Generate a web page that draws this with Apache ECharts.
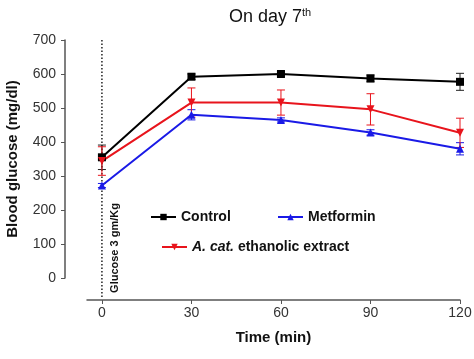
<!DOCTYPE html>
<html>
<head>
<meta charset="utf-8">
<script src="https://cdn.jsdelivr.net/npm/echarts@6/dist/echarts.min.js"></script>
<style>html,body{margin:0;padding:0;background:#fff}#c{width:474px;height:359px}</style>
</head>
<body>
<div id="c"></div>
<script>
var times = [0, 30, 60, 90, 120];
var yTicks = [0, 100, 200, 300, 400, 500, 600, 700];
var controlMean = [355, 592, 600, 587, 577];
var controlErr  = [36, 8, 6, 10, 25];
var metforminMean = [272, 480, 465, 428, 380];
var metforminErr  = [6, 15, 6, 8, 18];
var extractMean = [344, 516, 516, 496, 427];
var extractErr  = [42, 43, 37, 46, 43];
var seriesNames = ['Control', 'Metformin', 'A. cat. ethanolic extract'];
var FONT = 'Liberation Sans, Arial, sans-serif';

function pairs(m) { return times.map(function (t, i) { return [t, m[i]]; }); }
function errData(m, e) { return times.map(function (t, i) { return [t, m[i], e[i]]; }); }

function errSeries(name, m, e, color) {
  return {
    type: 'custom', name: name + ' err', z: 1,
    data: errData(m, e),
    renderItem: function (params, api) {
      var x = api.value(0), y = api.value(1), err = api.value(2);
      var hi = api.coord([x, y + err]);
      var lo = api.coord([x, y - err]);
      var w = 4;
      var st = { stroke: color, lineWidth: 1 };
      return { type: 'group', children: [
        { type: 'line', shape: { x1: hi[0], y1: hi[1], x2: lo[0], y2: lo[1] }, style: st },
        { type: 'line', shape: { x1: hi[0] - w, y1: hi[1], x2: hi[0] + w, y2: hi[1] }, style: st },
        { type: 'line', shape: { x1: lo[0] - w, y1: lo[1], x2: lo[0] + w, y2: lo[1] }, style: st }
      ]};
    }
  };
}

function lineSeries(name, m, color, symbol, rot) {
  return {
    type: 'line', name: name, data: pairs(m), z: 3,
    symbol: symbol, symbolSize: 8, symbolRotate: rot || 0,
    lineStyle: { color: color, width: 2 },
    itemStyle: { color: color },
    emphasis: { disabled: true }
  };
}

var legendText = { fontFamily: FONT, fontSize: 14, fontWeight: 'bold', color: '#111' };

var chart = echarts.init(document.getElementById('c'), null, { renderer: 'canvas' });
chart.setOption({
  animation: false,
  textStyle: { fontFamily: FONT },
  title: {
    text: 'On day 7{sup|th}', left: 265, top: 2, textAlign: 'center',
    textStyle: {
      fontFamily: FONT, fontSize: 18, fontWeight: 'normal', color: '#111',
      rich: { sup: { fontFamily: FONT, fontSize: 11, color: '#111', verticalAlign: 'top', padding: [0, 0, 9, 0] } }
    }
  },
  legend: [
    { data: [seriesNames[0]], left: 150, top: 210, padding: 0, itemWidth: 25, itemHeight: 8, itemGap: 4,
      textStyle: legendText },
    { data: [seriesNames[1]], left: 277, top: 210, padding: 0, itemWidth: 25, itemHeight: 8, itemGap: 4,
      textStyle: legendText },
    { data: [seriesNames[2]], left: 161, top: 240, padding: 0, itemWidth: 25, itemHeight: 8, itemGap: 4,
      formatter: function () { return '{i|A. cat.} ethanolic extract'; },
      textStyle: { fontFamily: FONT, fontSize: 14, fontWeight: 'bold', color: '#111',
        rich: { i: { fontFamily: FONT, fontSize: 14, fontWeight: 'bold', fontStyle: 'italic', color: '#111' } } } }
  ],
  grid: { left: 87, right: 14, top: 40, bottom: 81, containLabel: false, outerBoundsMode: 'none' },
  xAxis: {
    type: 'value', min: -5, max: 120, interval: 30, offset: 22,
    name: 'Time (min)', nameLocation: 'middle', nameGap: 30,
    nameTextStyle: { fontFamily: FONT, fontSize: 15, fontWeight: 'bold', color: '#111' },
    axisLine: { show: true, onZero: false, lineStyle: { color: '#555', width: 1.5 } },
    axisTick: { show: true, length: 4, lineStyle: { color: '#555' }, customValues: times },
    axisLabel: { fontFamily: FONT, fontSize: 14, color: '#333', margin: 6, customValues: times },
    splitLine: { show: false }
  },
  yAxis: {
    type: 'value', min: 0, max: 700, interval: 100, offset: 22,
    name: 'Blood glucose (mg/dl)', nameLocation: 'middle', nameGap: 45,
    nameTextStyle: { fontFamily: FONT, fontSize: 15, fontWeight: 'bold', color: '#111' },
    axisLine: { show: true, onZero: false, lineStyle: { color: '#555', width: 1.5 } },
    axisTick: { show: true, length: 4, lineStyle: { color: '#555' } },
    axisLabel: { fontFamily: FONT, fontSize: 14, color: '#333', margin: 9,
      formatter: function (v) { return yTicks.indexOf(v) >= 0 ? String(v) : ''; } },
    splitLine: { show: false }
  },
  series: [
    {
      type: 'custom', name: 'glucose marker', z: 0, clip: false,
      data: [[0]],
      renderItem: function (params, api) {
        var top = api.coord([0, 700]);
        var bot = api.coord([0, 0]);
        return { type: 'group', children: [
          { type: 'line', shape: { x1: top[0], y1: top[1], x2: bot[0], y2: bot[1] + 20 },
            style: { stroke: '#222', lineWidth: 1.5, lineDash: [1.5, 2] } },
          { type: 'text', x: top[0] + 13, y: bot[1] - 30, rotation: Math.PI / 2,
            style: { text: 'Glucose 3 gm/Kg', fill: '#111', font: 'bold 11px ' + FONT,
              align: 'center', verticalAlign: 'middle' } }
        ]};
      }
    },
    errSeries('Control', controlMean, controlErr, '#222'),
    errSeries('Metformin', metforminMean, metforminErr, '#1a1ae6'),
    errSeries('Extract', extractMean, extractErr, '#e8141c'),
    lineSeries(seriesNames[0], controlMean, '#000000', 'rect'),
    lineSeries(seriesNames[1], metforminMean, '#1a1ae6', 'triangle'),
    lineSeries(seriesNames[2], extractMean, '#e8141c', 'triangle', 180)
  ]
});
</script>
</body>
</html>
